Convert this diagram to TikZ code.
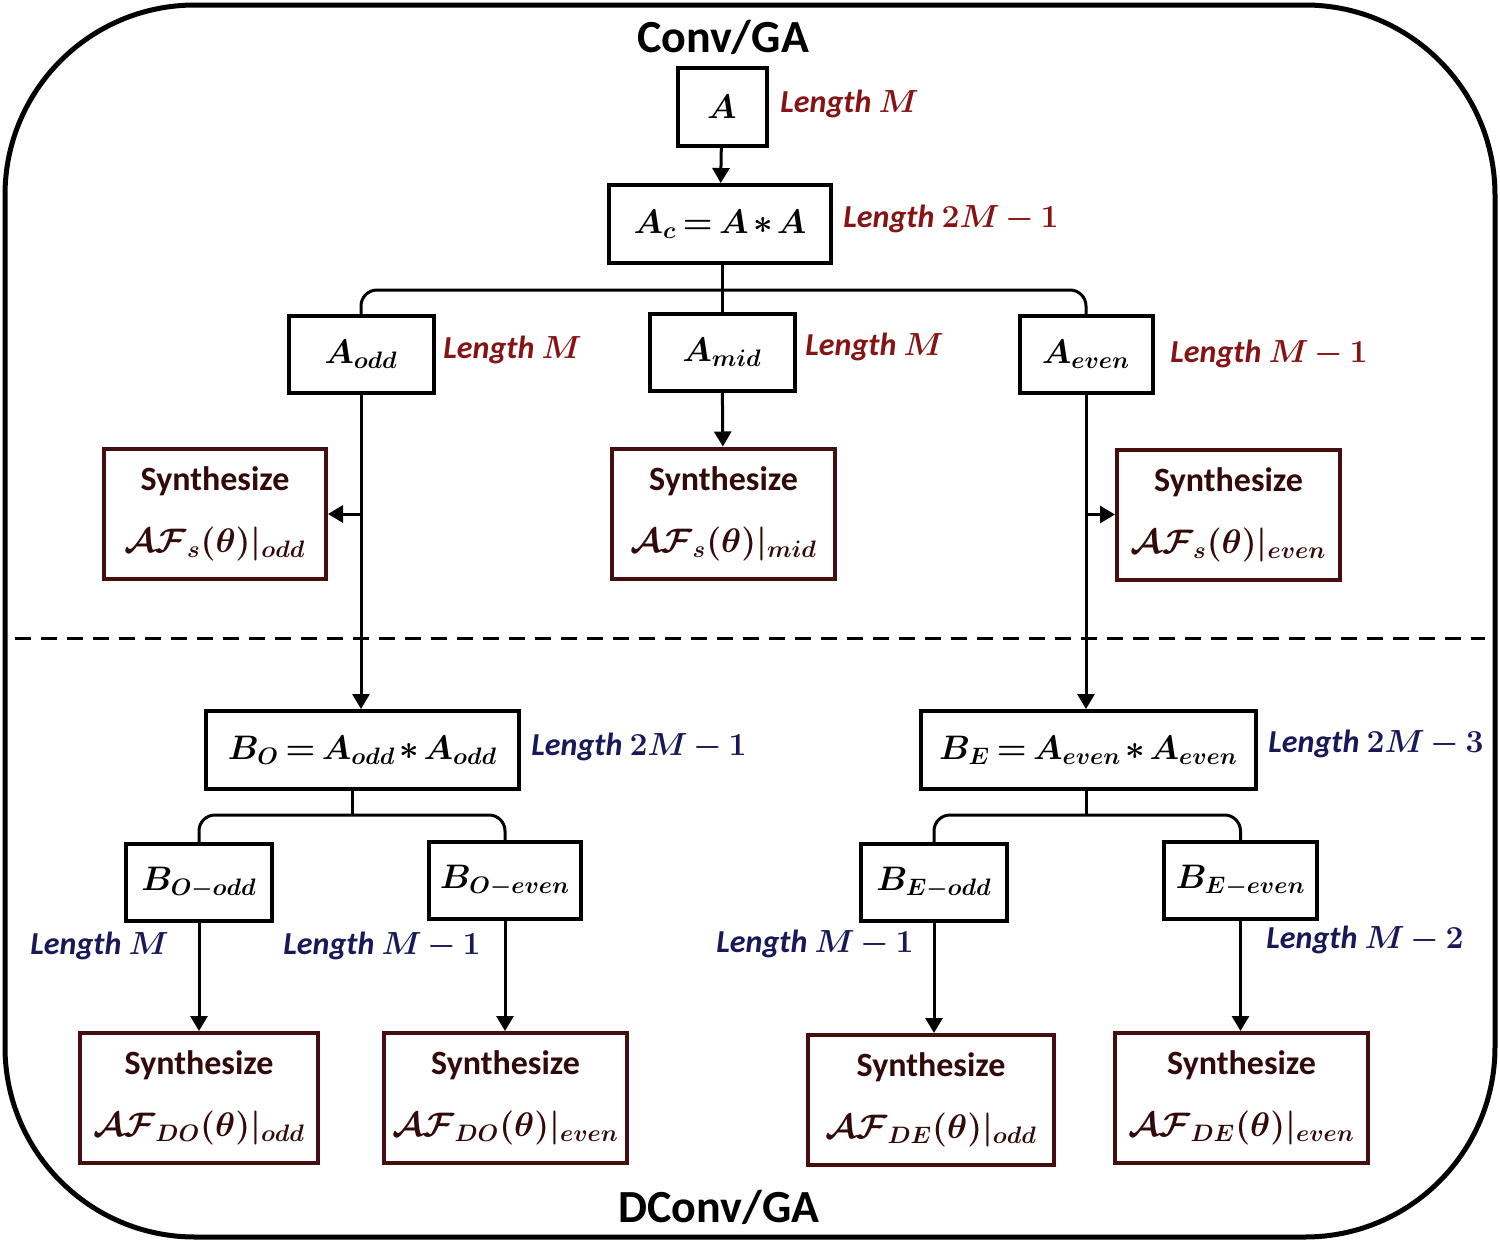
\RequirePackage{fix-cm}
\documentclass[tikz,border=0pt]{standalone}
\usepackage{amsmath}
\usepackage[no-math]{fontspec}
\setmainfont{Carlito}
\usetikzlibrary{arrows.meta}
\definecolor{lred}{RGB}{135,20,20}
\definecolor{lblue}{RGB}{25,25,90}
\definecolor{synt}{RGB}{50,10,10}
\definecolor{synb}{RGB}{70,15,15}
\newcommand\tightmath{\thickmuskip=3mu\relax\medmuskip=2mu\relax}
\newcommand\lenlab[1]{\textit{Length}~{\boldmath\medmuskip=3mu\relax$#1$}}
\newcommand\synlab[1]{Synthesize\\[11pt]{\boldmath$#1$}}
\begin{document}
\begin{tikzpicture}[x=0.5pt,y=-0.5pt,
  bx/.style={draw, line width=2pt, inner sep=0pt,
     font=\fontsize{17}{20}\selectfont\boldmath\tightmath},
  synbox/.style={draw=synb, line width=2pt, text=synt, align=center, inner sep=0pt,
     minimum height=65pt, font=\fontsize{17}{20}\selectfont\bfseries},
  lab/.style={anchor=west, inner sep=0pt, font=\fontsize{16}{19}\selectfont\bfseries},
  redlab/.style={lab, text=lred},
  bluelab/.style={lab, text=lblue},
  conn/.style={line width=1.5pt},
  arr/.style={conn, -{Triangle[length=7.5pt,width=8.5pt]}},
  ttl/.style={font=\fontsize{23}{26}\selectfont\bfseries, inner sep=0pt}
]
\useasboundingbox (0,0) rectangle (1500,1242);
\draw[line width=2.5pt, rounded corners=95pt] (5,5) rectangle (1495,1237);

% titles
\node[ttl] (t1) at (723,37) {Conv/GA};
\node[ttl] (t2) at (719,1207) {DConv/GA};

% top part
\node[bx, minimum width=44.5pt, minimum height=39pt] (a) at (722,107) {$A$};
\node[redlab] (la) at (780,104) {\lenlab{M}};
\node[bx, minimum width=111pt, minimum height=39pt] (ac) at (720,224) {$A_c = A * A$};
\node[redlab] (lac) at (843,219) {\lenlab{2M-1}};

\node[bx, minimum width=72.5pt, minimum height=38.5pt] (aodd) at (361,354.5) {$A_{odd}$};
\node[redlab] (laodd) at (443,350) {\lenlab{M}};
\node[bx, minimum width=72.5pt, minimum height=38.5pt] (amid) at (722,352.5) {$A_{mid}$};
\node[redlab] (lamid) at (805,347) {\lenlab{M}};
\node[bx, minimum width=66.5pt, minimum height=38.5pt] (aeven) at (1086,354.5) {$A_{even}$};
\node[redlab] (laeven) at (1170,354) {\lenlab{M-1}};

\node[synbox, minimum width=111pt] (synodd) at (215,514) {\synlab{\mathcal{AF}_s(\theta)|_{odd}}};
\node[synbox, minimum width=111.5pt] (synmid) at (723.5,513.5) {\synlab{\mathcal{AF}_s(\theta)|_{mid}}};
\node[synbox, minimum width=111.5pt] (syneven) at (1228.5,514.5) {\synlab{\mathcal{AF}_s(\theta)|_{even}}};

% dashed separator
\coordinate (dl) at (15,638);
\coordinate (dr) at (1485,638);
\draw[line width=1.5pt, dash pattern=on 8pt off 5pt] (dl) -- (dr);

% bottom part
\node[bx, minimum width=156.5pt, minimum height=39pt] (b0) at (362.5,750) {$B_O = A_{odd} * A_{odd}$};
\node[bluelab] (lb0) at (531,747) {\lenlab{2M-1}};
\node[bx, minimum width=167.5pt, minimum height=39pt] (be) at (1088.5,750) {$B_E = A_{even} * A_{even}$};
\node[bluelab] (lbe) at (1268,744) {\lenlab{2M-3}};

\node[bx, minimum width=73pt, minimum height=38.5pt] (b0odd) at (199,882.5) {$B_{O-odd}$};
\node[bx, minimum width=76pt, minimum height=38.5pt] (b0even) at (505,880.5) {$B_{O-even}$};
\node[bx, minimum width=73pt, minimum height=38.5pt] (beodd) at (934,882.5) {$B_{E-odd}$};
\node[bx, minimum width=76.5pt, minimum height=38.5pt] (beeven) at (1240.5,880.5) {$B_{E-even}$};

\node[bluelab] (lb0odd) at (30,946) {\lenlab{M}};
\node[bluelab] (lb0even) at (283,946) {\lenlab{M-1}};
\node[bluelab] (lbeodd) at (716,944) {\lenlab{M-1}};
\node[bluelab] (lbeeven) at (1266,940) {\lenlab{M-2}};

\node[synbox, minimum width=119pt] (sdoo) at (199,1098) {\synlab{\mathcal{AF}_{DO}(\theta)|_{odd}}};
\node[synbox, minimum width=121.5pt] (sdoe) at (505.5,1098) {\synlab{\mathcal{AF}_{DO}(\theta)|_{even}}};
\node[synbox, minimum width=123pt] (sdeo) at (931,1100) {\synlab{\mathcal{AF}_{DE}(\theta)|_{odd}}};
\node[synbox, minimum width=126.5pt] (sdee) at (1241.5,1098) {\synlab{\mathcal{AF}_{DE}(\theta)|_{even}}};

% connectors top
\draw[arr] (a) -- (ac);
\draw[conn] (amid.north |- ac.south) -- (amid.north);
\coordinate (br1) at (722,290);
\draw[conn, rounded corners=8pt] (aodd.north) |- (br1) -| (aeven.north);
\draw[arr] (amid) -- (synmid);
\draw[arr] (aodd.south) -- (aodd.south |- b0.north);
\draw[arr] (aodd.south |- synodd.east) -- (synodd.east);
\draw[arr] (aeven.south) -- (aeven.south |- be.north);
\draw[arr] (aeven.south |- syneven.west) -- (syneven.west);

% connectors bottom
\coordinate (br2) at (352,815);
\draw[conn] (b0.south -| br2) -- (br2);
\draw[conn, rounded corners=8pt] (b0odd.north) |- (br2) -| (b0even.north);
\coordinate (br3) at (1086,815);
\draw[conn] (be.south -| br3) -- (br3);
\draw[conn, rounded corners=8pt] (beodd.north) |- (br3) -| (beeven.north);

\draw[arr] (b0odd.south) -- (b0odd.south |- sdoo.north);
\draw[arr] (b0even.south) -- (b0even.south |- sdoe.north);
\draw[arr] (beodd.south) -- (beodd.south |- sdeo.north);
\draw[arr] (beeven.south) -- (beeven.south |- sdee.north);
\end{tikzpicture}
\end{document}
